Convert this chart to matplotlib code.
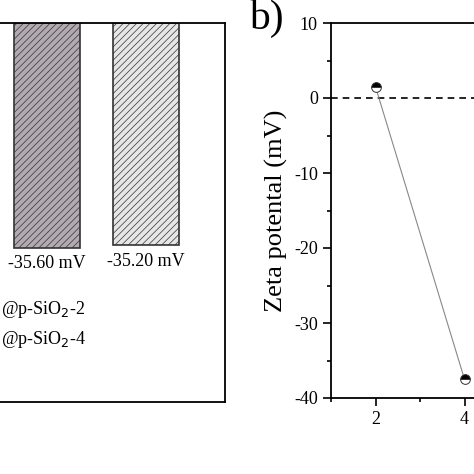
import matplotlib
matplotlib.use("Agg")
import matplotlib.pyplot as plt
from matplotlib.ticker import MultipleLocator

plt.rcParams['font.family'] = ['Liberation Serif', 'DejaVu Serif']
plt.rcParams['axes.unicode_minus'] = False
plt.rcParams['hatch.linewidth'] = 0.5
plt.rcParams['hatch.color'] = '#555555'

# left panel (bars, only partly visible)
bar_pos = [1, 2]
bar_vals = [-35.60, -35.20]
bar_colors = ['#b2aab0', '#e6e6e6']
bar_labels = ['-35.60 mV', '-35.20 mV']
legend_labels = [r'@p-SiO$_2$-2', r'@p-SiO$_2$-4']

# right panel (zeta potential)
ph = [2, 4]
zeta = [1.5, -37.5]

W = 474.0
fig = plt.figure(figsize=(4.74, 4.74), dpi=100)

ax1 = fig.add_axes([-51.5 / W, (W - 402) / W, 276.5 / W, 379 / W])
ax1.bar(bar_pos, bar_vals, width=0.67, color=bar_colors, edgecolor='#333333',
        linewidth=1.2, hatch='/////', align='center')
for x, v, lab in zip(bar_pos, bar_vals, bar_labels):
    ax1.text(x, v - 1.2, lab, ha='center', va='top', fontsize=13)
for i, lab in enumerate(legend_labels):
    ax1.text(0.53, -45.3 - i * 4.8, lab, ha='left', va='center', fontsize=13)
ax1.set_xlim(0, 2.807)
ax1.set_ylim(-60, 0)
ax1.set_xticks([])
ax1.set_yticks([])
for s in ax1.spines.values():
    s.set_linewidth(1.3)

ax2 = fig.add_axes([331 / W, (W - 398) / W, 267 / W, 375 / W])
ax2.axhline(0, color='black', linestyle=(0, (4, 3)), linewidth=1.2)
ax2.plot(ph, zeta, color='#888888', linewidth=0.8, marker='o', markersize=7,
         fillstyle='top', markerfacecolor='black', markerfacecoloralt='white',
         markeredgecolor='#333333', markeredgewidth=0.7)
ax2.set_xlim(1, 7)
ax2.set_ylim(-40, 10)
ax2.set_xticks([2, 4])
ax2.yaxis.set_major_locator(MultipleLocator(10))
ax2.yaxis.set_minor_locator(MultipleLocator(5))
ax2.xaxis.set_minor_locator(MultipleLocator(1))
ax2.tick_params(which='both', direction='out', labelsize=13, width=1.2)
ax2.tick_params(which='major', length=6)
ax2.tick_params(which='minor', length=3)
ax2.set_ylabel('Zeta potental (mV)', fontsize=19, labelpad=4)
for s in ax2.spines.values():
    s.set_linewidth(1.3)

fig.text(249 / W, 1 - 18 / W, 'b)', fontsize=30, ha='left', va='center')

fig.savefig('out.png', dpi=100)
